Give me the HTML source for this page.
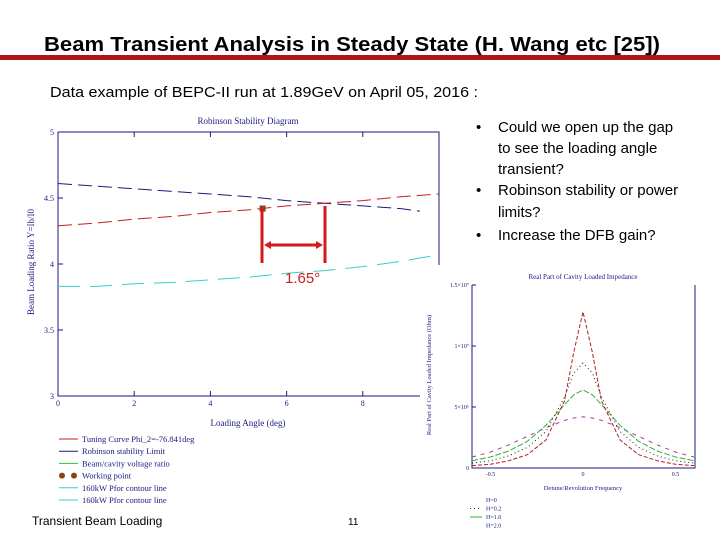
<!DOCTYPE html>
<html><head><meta charset="utf-8"><style>
body{margin:0;background:#fff;}
svg{display:block;}
.t{font-family:"Liberation Serif",serif;fill:#1a1a80;}
.s{font-family:"Liberation Sans",sans-serif;}
</style></head><body>
<svg id="slide" width="720" height="540" viewBox="0 0 720 540">
<text x="44" y="51" class="s" font-size="20.5" font-weight="bold" fill="#000" textLength="616" lengthAdjust="spacingAndGlyphs">Beam Transient Analysis in Steady State (H. Wang etc [25])</text>
<rect x="0" y="55" width="720" height="5" fill="#b01515"/>
<text x="50" y="97" class="s" font-size="15" fill="#000" textLength="428" lengthAdjust="spacingAndGlyphs">Data example of BEPC-II run at 1.89GeV on April 05, 2016 :</text>
<g class="s" font-size="15" fill="#000">
<text x="476" y="132">•</text><text x="498" y="132">Could we open up the gap</text>
<text x="498" y="153">to see the loading angle</text>
<text x="498" y="174">transient?</text>
<text x="476" y="195">•</text><text x="498" y="195">Robinson stability or power</text>
<text x="498" y="217">limits?</text>
<text x="476" y="240">•</text><text x="498" y="240">Increase the DFB gain?</text>
</g>
<g id="left"></g>
<g id="right"></g>
<text x="32" y="525" class="s" font-size="12" fill="#000">Transient Beam Loading</text>
<text x="348" y="525" class="s" font-size="10" fill="#000">11</text>
</svg>
<script>
const NS="http://www.w3.org/2000/svg";
// Left chart data
const angleX=[0,1,2,3,4,5,6,7,8,9,10];
const tuningCurve=[4.29,4.31,4.34,4.36,4.39,4.41,4.44,4.46,4.48,4.51,4.53];
const robinsonX=[0,1,2,3,4,5,6,7,8,9,9.5];
const robinsonLimit=[4.61,4.59,4.57,4.55,4.53,4.51,4.48,4.46,4.44,4.42,4.40];
const contourLine=[3.83,3.83,3.85,3.86,3.88,3.90,3.93,3.95,3.98,4.02,4.07];
const workingPoint=[5.37,4.42];
const xTicksL=[0,2,4,6,8];
const yTicksL=[3,3.5,4,4.5,5];
// Right chart data
const detune=[-0.6,-0.5,-0.4,-0.3,-0.2,-0.1,-0.05,0,0.05,0.1,0.2,0.3,0.4,0.5,0.6];
const zH0=[0.2,0.3,0.6,1.1,2.3,5.5,9.5,12.8,9.5,5.5,2.3,1.1,0.6,0.3,0.2];
const zH02=[0.4,0.6,1.0,1.7,3.0,5.8,7.8,8.6,7.8,5.8,3.0,1.7,1.0,0.6,0.4];
const zH1=[0.6,0.9,1.4,2.2,3.5,5.2,6.0,6.4,6.0,5.2,3.5,2.2,1.4,0.9,0.6];
const zH2=[0.9,1.3,1.9,2.6,3.3,3.9,4.1,4.2,4.1,3.9,3.3,2.6,1.9,1.3,0.9];
const xTicksR=[-0.5,0,0.5];
const yTicksR=[0,5,10,15];
const yTickLabelsR=["0","5×10⁶","1×10⁷","1.5×10⁷"];

function el(p,tag,a,txt){const e=document.createElementNS(NS,tag);for(const k in a)e.setAttribute(k,a[k]);if(txt!==undefined)e.textContent=txt;p.appendChild(e);return e;}
function pts(xs,ys,fx,fy){return xs.map((x,i)=>fx(x).toFixed(1)+","+fy(ys[i]).toFixed(1)).join(" ");}

// LEFT
const L=document.getElementById('left');
const lx=v=>58+v*38.1, ly=v=>396-(v-3)*132;
el(L,'text',{x:248,y:124,'font-size':9,'text-anchor':'middle',class:'t',},'Robinson Stability Diagram');
let ax=el(L,'path',{d:`M58,132 H439 V265 M58,132 V396 H420`,stroke:'#1a1a80','stroke-width':1,fill:'none'});

yTicksL.forEach(v=>{const t=el(L,'text',{x:54,y:ly(v)+3,'font-size':8,'text-anchor':'end',class:'t'},String(v));

el(L,'line',{x1:58,x2:63,y1:ly(v),y2:ly(v),stroke:'#1a1a80'});});
xTicksL.forEach(v=>{const t=el(L,'text',{x:lx(v),y:406,'font-size':8,'text-anchor':'middle',class:'t'},String(v));

el(L,'line',{x1:lx(v),x2:lx(v),y1:132,y2:137,stroke:'#1a1a80'});el(L,'line',{x1:lx(v),x2:lx(v),y1:396,y2:391,stroke:'#1a1a80'});});
let xt=el(L,'text',{x:248,y:426,'font-size':9,'text-anchor':'middle',class:'t'},'Loading Angle (deg)');

let yt=el(L,'text',{x:0,y:0,'font-size':9,'text-anchor':'middle',class:'t',transform:'translate(34,262) rotate(-90)'},'Beam Loading Ratio Y=Ib/I0');

let s1=el(L,'polyline',{points:pts(robinsonX,robinsonLimit,lx,ly),fill:'none',stroke:'#1a1a80','stroke-width':1,'stroke-dasharray':'14,6'});

let s2=el(L,'polyline',{points:pts(angleX,tuningCurve,lx,ly),fill:'none',stroke:'#c02020','stroke-width':1,'stroke-dasharray':'14,6'});

let s3=el(L,'polyline',{points:pts(angleX,contourLine,lx,ly),fill:'none',stroke:'#30d0d0','stroke-width':1,'stroke-dasharray':'22,10'});

let wp=el(L,'rect',{x:lx(workingPoint[0])-3,y:ly(workingPoint[1])-3,width:6,height:6,fill:'#8b4513'});

let an=el(L,'g',{stroke:'#d41a1a','stroke-width':3,fill:'#d41a1a'});

el(an,'line',{x1:262,y1:207,x2:262,y2:263});el(an,'line',{x1:325,y1:206,x2:325,y2:263});
el(an,'line',{x1:268,y1:245,x2:319,y2:245});
el(an,'path',{d:'M264,245 l7,-4 v8z M323,245 l-7,-4 v8z','stroke-width':0});
let at=el(L,'text',{x:285,y:283,'font-size':15,fill:'#c82020',class:'s'},'1.65°');

const legL=[['#c02020','Tuning Curve Phi_2=-76.841deg'],['#1a1a80','Robinson stability Limit'],['#30c030','Beam/cavity voltage ratio'],['dot','Working point'],['#30d0d0','160kW Pfor contour line'],['#30d0d0','160kW Pfor contour line']];
legL.forEach((d,i)=>{const y=439+i*12.2;const g=el(L,'g',{});

if(d[0]==='dot'){el(g,'circle',{cx:62,cy:y,r:3,fill:'#8b4513'});el(g,'circle',{cx:74,cy:y,r:3,fill:'#8b4513'});}
else el(g,'line',{x1:59,x2:78,y1:y,y2:y,stroke:d[0]});
el(g,'text',{x:82,y:y+3,'font-size':8.5,class:'t'},d[1]);});

// RIGHT
const R=document.getElementById('right');
const rx=v=>583+v*185, ry=v=>468-v*12.2;
el(R,'text',{x:583,y:279,'font-size':7,'text-anchor':'middle',class:'t'},'Real Part of Cavity Loaded Impedance');
let ax2=el(R,'path',{d:'M472,285 V468 H695 V285',stroke:'#1a1a80',fill:'none'});

yTicksR.forEach((v,i)=>{el(R,'text',{x:469,y:ry(v)+2,'font-size':6,'text-anchor':'end',class:'t'},yTickLabelsR[i]);el(R,'line',{x1:472,x2:476,y1:ry(v),y2:ry(v),stroke:'#1a1a80'});});
xTicksR.forEach(v=>{el(R,'text',{x:rx(v),y:476,'font-size':6,'text-anchor':'middle',class:'t'},String(v));});
el(R,'text',{x:583,y:490,'font-size':6.5,'text-anchor':'middle',class:'t'},'Detune/Revolution Frequency');
el(R,'text',{x:0,y:0,'font-size':6.5,'text-anchor':'middle',class:'t',transform:'translate(431,375) rotate(-90)'},'Real Part of Cavity Loaded Impedance (Ohm)');
const series=[[zH2,'#a040a0','4,5','curve-h2'],[zH1,'#30b030','6,2','curve-h1'],[zH02,'#202020','1,3','curve-h02'],[zH0,'#b02020','4,2','curve-h0']];
series.forEach(s=>{const p=el(R,'polyline',{points:pts(detune,s[0],rx,ry),fill:'none',stroke:s[1],'stroke-width':1,'stroke-dasharray':s[2]});
});
const legR=[['#b02020','H=0','4,2'],['#202020','H=0.2','1,3'],['#30b030','H=1.0','none'],['#a040a0','H=2.0','4,5']];
legR.forEach((d,i)=>{const y=500+i*8.5;const g=el(R,'g',{});

if(i===1||i===2)el(g,'line',{x1:470,x2:482,y1:y,y2:y,stroke:d[0],'stroke-dasharray':d[2]});
el(g,'text',{x:486,y:y+2,'font-size':6,class:'t'},d[1]);});
</script>
</body></html>
